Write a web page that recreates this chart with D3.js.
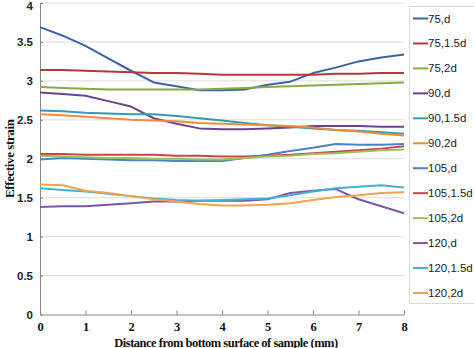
<!DOCTYPE html>
<html>
<head>
<meta charset="utf-8">
<script src="https://cdn.jsdelivr.net/npm/d3@7"></script>
<style>
  html, body { margin: 0; padding: 0; background: #fff; }
  svg { display: block; }
</style>
</head>
<body>
<svg id="chart" width="474" height="348"></svg>
<script>
// Distance from the bottom surface (mm)
const distance = [0, 0.5, 1, 1.5, 2, 2.5, 3, 3.5, 4, 4.5, 5, 5.5, 6, 6.5, 7, 7.5, 8];

// Effective strain for each temperature / spacing combination
const s75d   = [3.69, 3.58, 3.45, 3.29, 3.13, 2.98, 2.93, 2.88, 2.88, 2.89, 2.95, 2.99, 3.10, 3.17, 3.25, 3.30, 3.34];
const s75_15 = [3.14, 3.14, 3.13, 3.12, 3.11, 3.10, 3.10, 3.09, 3.08, 3.08, 3.08, 3.08, 3.08, 3.09, 3.09, 3.10, 3.10];
const s75_2  = [2.92, 2.91, 2.90, 2.89, 2.89, 2.89, 2.89, 2.89, 2.90, 2.91, 2.92, 2.93, 2.94, 2.95, 2.96, 2.97, 2.98];
const s90d   = [2.85, 2.83, 2.81, 2.74, 2.67, 2.52, 2.45, 2.39, 2.38, 2.38, 2.39, 2.40, 2.42, 2.42, 2.42, 2.41, 2.41];
const s90_15 = [2.62, 2.61, 2.59, 2.58, 2.57, 2.57, 2.55, 2.52, 2.49, 2.46, 2.43, 2.41, 2.39, 2.37, 2.36, 2.34, 2.32];
const s90_2  = [2.57, 2.56, 2.54, 2.52, 2.50, 2.49, 2.48, 2.46, 2.45, 2.44, 2.43, 2.42, 2.40, 2.37, 2.35, 2.32, 2.30];
const s105d  = [1.99, 2.01, 2.00, 1.99, 1.98, 1.98, 1.97, 1.97, 1.97, 2.01, 2.05, 2.10, 2.14, 2.19, 2.18, 2.18, 2.19];
const s105_15= [2.06, 2.06, 2.05, 2.05, 2.05, 2.05, 2.04, 2.04, 2.03, 2.03, 2.04, 2.05, 2.07, 2.09, 2.11, 2.13, 2.16];
const s105_2 = [2.04, 2.03, 2.02, 2.01, 2.01, 2.00, 2.00, 1.99, 1.99, 2.01, 2.03, 2.04, 2.06, 2.07, 2.09, 2.11, 2.12];
const s120d  = [1.38, 1.39, 1.39, 1.41, 1.43, 1.45, 1.45, 1.46, 1.46, 1.46, 1.48, 1.56, 1.59, 1.61, 1.48, 1.39, 1.30];
const s120_15= [1.62, 1.60, 1.58, 1.55, 1.52, 1.49, 1.47, 1.46, 1.47, 1.48, 1.49, 1.53, 1.58, 1.62, 1.64, 1.66, 1.63];
const s120_2 = [1.67, 1.66, 1.59, 1.56, 1.52, 1.48, 1.45, 1.42, 1.40, 1.40, 1.41, 1.43, 1.47, 1.51, 1.53, 1.56, 1.57];

const seriesNames = ["75,d", "75,1.5d", "75,2d", "90,d", "90,1.5d", "90,2d",
                     "105,d", "105,1.5d", "105,2d", "120,d", "120,1.5d", "120,2d"];
const seriesValues = [s75d, s75_15, s75_2, s90d, s90_15, s90_2,
                      s105d, s105_15, s105_2, s120d, s120_15, s120_2];
const seriesColors = ["#3c62a6", "#b23a3a", "#88aa45", "#68458f", "#3a98b3", "#f08a3c",
                      "#4a84c6", "#c8454a", "#9cc05a", "#7b58a6", "#45b0d4", "#f7a04e"];

const xTicks = [0, 1, 2, 3, 4, 5, 6, 7, 8];
const yTicks = [0, 0.5, 1, 1.5, 2, 2.5, 3, 3.5, 4];

const svg = d3.select("#chart");

const x = d3.scaleLinear().domain([0, 8]).range([40, 404]);
const y = d3.scaleLinear().domain([0, 4]).range([314.5, 3]);

// horizontal gridlines
svg.append("g")
  .selectAll("line")
  .data(yTicks.filter(d => d > 0))
  .join("line")
  .attr("x1", x(0)).attr("x2", x(8))
  .attr("y1", d => y(d)).attr("y2", d => y(d))
  .attr("stroke", "#dcdcdc").attr("stroke-width", 1);

// y axis
const yAxis = svg.append("g")
  .attr("transform", `translate(${x(0)},0)`)
  .call(d3.axisLeft(y).tickValues(yTicks).tickSize(4).tickSizeOuter(0)
        .tickFormat(d3.format("")));
yAxis.select(".domain").attr("stroke", "#868686");
yAxis.selectAll(".tick line").attr("stroke", "#868686").attr("x2", 3).attr("x1", 0);
yAxis.selectAll(".tick text")
  .attr("x", -7)
  .attr("dy", d => d === 4 ? "0.55em" : "0.35em")
  .attr("font-family", "'Liberation Sans', Arial, sans-serif")
  .attr("font-size", 11.5).attr("font-weight", "bold").attr("fill", "#222");

// x axis
const xAxis = svg.append("g")
  .attr("transform", `translate(0,${y(0)})`)
  .call(d3.axisBottom(x).tickValues(xTicks).tickSize(-4).tickSizeOuter(0)
        .tickFormat(d3.format("d")));
xAxis.select(".domain").attr("stroke", "#868686");
xAxis.selectAll(".tick line").attr("stroke", "#868686");
xAxis.selectAll(".tick text")
  .attr("y", 8)
  .attr("font-family", "'Liberation Serif', 'Times New Roman', serif")
  .attr("font-size", 12.5).attr("font-weight", "bold").attr("fill", "#111");

// strain curves
const line = d3.line()
  .x((d, i) => x(distance[i]))
  .y(d => y(d));

svg.append("g")
  .selectAll("path")
  .data(seriesValues)
  .join("path")
  .attr("d", d => line(d))
  .attr("fill", "none")
  .attr("stroke", (d, i) => seriesColors[i])
  .attr("stroke-width", 2)
  .attr("stroke-linejoin", "round");

// axis titles
svg.append("text")
  .attr("x", 226).attr("y", 346.5)
  .attr("text-anchor", "middle")
  .attr("font-family", "'Liberation Serif', 'Times New Roman', serif")
  .attr("font-size", 12.5).attr("font-weight", "bold").attr("fill", "#111")
  .attr("letter-spacing", -0.5)
  .text("Distance from bottom surface of sample (mm)");

svg.append("text")
  .attr("transform", `translate(14,${(y(0) + y(4)) / 2}) rotate(-90)`)
  .attr("text-anchor", "middle")
  .attr("font-family", "'Liberation Serif', 'Times New Roman', serif")
  .attr("font-size", 13).attr("font-weight", "bold").attr("fill", "#111")
  .attr("letter-spacing", -0.4)
  .text("Effective strain");

// legend
const legend = svg.append("g");
legend.append("rect")
  .attr("x", 409.5).attr("y", 6.5).attr("width", 70).attr("height", 297)
  .attr("fill", "#fff").attr("stroke", "#d9d9d9");

const ly = d3.scalePoint().domain(seriesNames).range([18.5, 293]);
const item = legend.selectAll("g.item")
  .data(seriesNames)
  .join("g")
  .attr("class", "item")
  .attr("transform", d => `translate(0,${ly(d)})`);
item.append("line")
  .attr("x1", 413).attr("x2", 428)
  .attr("stroke", (d, i) => seriesColors[i]).attr("stroke-width", 2);
item.append("text")
  .attr("x", 428).attr("dy", "0.35em")
  .attr("font-family", "'Liberation Sans', Arial, sans-serif")
  .attr("font-size", 11.5).attr("fill", "#222")
  .text(d => d);
</script>
</body>
</html>
